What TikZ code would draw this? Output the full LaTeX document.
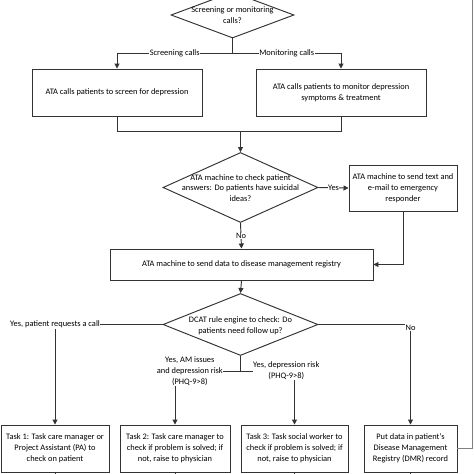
\documentclass[tikz,border=0pt]{standalone}
\usepackage{fontspec}
\setmainfont{Carlito}
\usetikzlibrary{shapes.geometric,arrows.meta}
\definecolor{ln}{HTML}{333333}
\tikzset{
  txt/.style={font=\fontsize{8.4}{10.8}\selectfont, text=black, align=center},
  box/.style={txt, draw=ln, line width=0.95pt, rectangle, inner sep=0.5pt},
  dia/.style={draw=ln, line width=0.95pt, diamond, inner sep=0pt},
  lab/.style={txt, fill=white, inner sep=0.5pt},
  conn/.style={draw=ln, line width=0.95pt},
  arr/.style={conn, -{Triangle[length=5pt,width=5pt]}}
}
\begin{document}
\begin{tikzpicture}[x=1pt,y=-1pt]
\useasboundingbox (0,0) rectangle (474,474);
\fill[white] (0,0) rectangle (474,474);
\clip (0,0) rectangle (474,474);

% diamonds
\node[dia, minimum width=123pt, minimum height=46pt] (d1) at (232.5,15) {};
\node[txt] (d1t) at (232.5,15) {Screening or monitoring\\calls?};
\node[dia, minimum width=155pt, minimum height=70pt] (d2) at (240.5,187.5) {};
\node[txt] (d2t) at (240.5,188) {ATA machine to check patient\\answers: Do patients have suicidal\\ideas?};
\node[dia, minimum width=155pt, minimum height=62pt] (d3) at (240.5,324.5) {};
\node[txt] (d3t) at (240.5,326) {DCAT rule engine to check: Do\\patients need follow up?};

% boxes
\node[box, minimum width=170pt, minimum height=47pt] (b1) at (117,92.5) {ATA calls patients to screen for depression};
\node[box, minimum width=170pt, minimum height=47pt] (b2) at (341,92.5) {ATA calls patients to monitor depression\\symptoms \& treatment};
\node[box, minimum width=108pt, minimum height=46pt] (em) at (403,188) {ATA machine to send text and\\e-mail to emergency\\responder};
\node[box, minimum width=263pt, minimum height=31pt] (reg) at (241.5,264.5) {ATA machine to send data to disease management registry};
\node[box, minimum width=108pt, minimum height=47pt] (t1) at (55,448.5) {Task 1: Task care manager or\\Project Assistant (PA) to\\check on patient};
\node[box, minimum width=110pt, minimum height=47pt] (t2) at (175,448.5) {Task 2: Task care manager to\\check if problem is solved; if\\not, raise to physician};
\node[box, minimum width=107pt, minimum height=47pt] (t3) at (294.5,448.5) {Task 3: Task social worker to\\check if problem is solved; if\\not, raise to physician};
\node[box, minimum width=93pt, minimum height=47pt] (t4) at (410.5,448.5) {Put data in patient’s\\Disease Management\\Registry (DMR) record};

% coordinates
\coordinate (j1) at (232.5,53);
\coordinate (m) at (240.5,131);
\coordinate (j3) at (240.5,371);
\coordinate (rtop) at (472,0);
\coordinate (e1) at (55,476);
\coordinate (e2) at (175,476);
\coordinate (e3) at (294.5,476);
\coordinate (e4) at (410.5,476);

% connectors
\draw[conn] (d1.south) -- (j1);
\draw[arr] (j1) -| node[lab, pos=0.25] {Screening calls} (b1.north);
\draw[arr] (j1) -| node[lab, pos=0.25] {Monitoring calls} (b2.north);
\draw[conn] (b1.south) |- (m);
\draw[conn] (b2.south) |- (m);
\draw[arr] (m) -- (d2.north);
\draw[arr] (d2.east) -- node[lab] {Yes} (em.west);
\draw[arr] (d2.south) -- node[lab] {No} (reg.north);
\draw[arr] (em.south) |- (reg.east);
\draw[arr] (reg.south) -- (d3.north);
\draw[arr] (d3.west) -| node[lab] {Yes, patient requests a call} (t1.north);
\draw[arr] (d3.east) -| node[lab, yshift=-3pt] {No} (t4.north);
\draw[conn] (d3.south) -- (j3);
\draw[arr] (j3) -| (t2.north);
\draw[arr] (j3) -| (t3.north);
\node[lab, anchor=east] (l2) at ([xshift=-17pt]j3) {Yes, AM issues\\and depression risk\\(PHQ-9>8)};
\node[lab, anchor=west] (l3) at ([xshift=12pt,yshift=0pt]j3) {Yes, depression risk\\(PHQ-9>8)};
\draw[conn, draw=gray] (t4.east) -| (rtop);
\draw[conn] (t1.south) -- (e1);
\draw[conn] (t2.south) -- (e2);
\draw[conn] (t3.south) -- (e3);
\draw[conn] (t4.south) -- (e4);
\end{tikzpicture}
\end{document}
